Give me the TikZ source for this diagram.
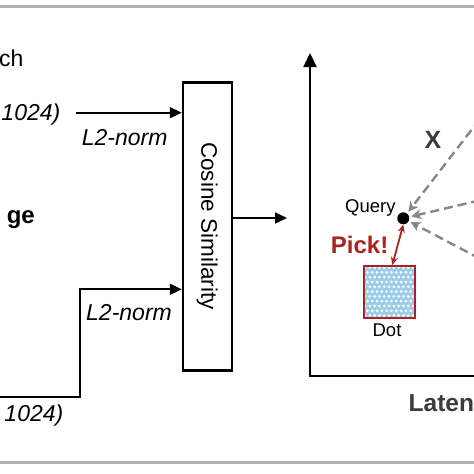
\documentclass[tikz,border=0pt]{standalone}
\usepackage{fontspec}
\setmainfont{Liberation Sans}
\usetikzlibrary{arrows.meta,calc}
\definecolor{pickred}{RGB}{170,35,30}
\definecolor{dotblue}{RGB}{155,205,235}
\definecolor{dashgray}{RGB}{135,135,135}
\definecolor{framegray}{RGB}{175,175,175}
\definecolor{darktext}{RGB}{60,60,60}
\tikzset{
  fs/.style={font=\fontsize{#1}{#1}\selectfont},
  bfs/.style={font=\fontsize{#1}{#1}\selectfont\bfseries},
  ifs/.style={font=\fontsize{#1}{#1}\selectfont\itshape},
  lbl/.style={inner sep=0pt},
  arr/.style={line width=1.7pt,-{Triangle[length=12pt,width=11pt]}},
  dasharr/.style={dashgray,line width=2.4pt,dash pattern=on 9pt off 5pt,
    -{Stealth[length=10pt,width=10pt,inset=3pt]},shorten >=2pt},
  pickarr/.style={pickred,line width=1.8pt,
    {Stealth[length=8pt,width=7pt]}-{Stealth[length=8pt,width=7pt]}},
  framerule/.style={framegray,line width=2.5pt},
  simbox/.style={draw,line width=2.5pt,minimum width=49pt,minimum height=288pt,inner sep=0pt},
}
\begin{document}
\begin{tikzpicture}[x=1pt,y=-1pt]
\fill[white] (0,0) rectangle (474,474);
\useasboundingbox (0,0) rectangle (474,474);
\clip (0,0) rectangle (474,474);

% frame rules
\coordinate (tl) at (-5,6.7);
\coordinate (tr) at (480,6.7);
\coordinate (bl) at (-5,462.3);
\coordinate (br) at (480,462.3);
\draw[framerule] (tl) -- (tr);
\draw[framerule] (bl) -- (br);

% left labels
\node[lbl,fs=23,anchor=base east] (patch) at (23.5,66.7) {ch};
\node[lbl,ifs=23,anchor=base east] (dim1) at (60.5,120) {1024)};
\node[lbl,bfs=24,anchor=base east] (image) at (35,223.3) {ge};
\node[lbl,ifs=23,anchor=base east] (dim2) at (63.5,421.7) {1024)};

% cosine similarity box
\node[simbox] (sim) at (207.5,226.3) {};
\node[lbl,fs=22.5,rotate=-90] (simtext) at (207.2,226) {Cosine Similarity};

% inputs
\coordinate (in1) at (76,112.7);
\draw[arr] (in1) -- (in1 -| sim.west);
\node[lbl,ifs=23,anchor=base west] (norm1) at (81.7,145.7) {L2-norm};

\coordinate (in2) at (-5,396.7);
\coordinate (elbow) at (80,396.7);
\coordinate (in2t) at (0,289.3);
\draw[arr] (in2) -- (elbow) -- (elbow |- in2t) -- (in2t -| sim.west);
\node[lbl,ifs=23,anchor=base west] (norm2) at (86,320) {L2-norm};

% to panel
\coordinate (pin) at (287,218);
\draw[arr] (pin -| sim.east) -- (pin);

% axes
\coordinate (origin) at (310,375.5);
\coordinate (ytop) at (310,53);
\coordinate (xend) at (480,375.5);
\draw[line width=2pt,{Triangle[length=14pt,width=13pt]}-] (ytop) -- (origin) -- (xend);

% query point
\node[circle,fill=black,inner sep=0pt,minimum size=12pt] (q) at (403.3,218.3) {};
\node[lbl,fs=18.5,anchor=base west] (query) at (345,212) {Query};

% dashed arrows
\coordinate (d1) at (480,118.9);
\coordinate (d2) at (480,200.3);
\coordinate (d3) at (480,258.7);
\draw[dasharr] (d1) -- (q);
\draw[dasharr] (d2) -- (q);
\draw[dasharr] (d3) -- (q);
\node[lbl,bfs=25,darktext,anchor=base] (xmark) at (433,148) {X};

% dot box
\node[draw=pickred,line width=2pt,fill=dotblue,minimum width=51.5pt,minimum height=52.3pt,inner sep=0pt,
  path picture={
    \foreach \r in {0,...,11}{
      \foreach \c in {0,...,11}{
        \fill[white] ($(path picture bounding box.north west)+({\c*4.8+mod(\r,2)*2.4+1.5},{\r*4.8+1.5})$) circle (1.5pt);
      }
    }
  }] (dotbox) at (389.3,292.2) {};
\node[lbl,fs=18.5,anchor=base] (dotlabel) at (387,336) {Dot};

% pick
\draw[pickarr] (q.south) -- ([xshift=3pt]dotbox.north);
\node[lbl,bfs=24,text=pickred,anchor=base west] (pick) at (330.7,253) {Pick!};

% latent label
\node[lbl,bfs=24.5,text=darktext,anchor=base west] (latent) at (408.5,411.7) {Laten};
\end{tikzpicture}
\end{document}
